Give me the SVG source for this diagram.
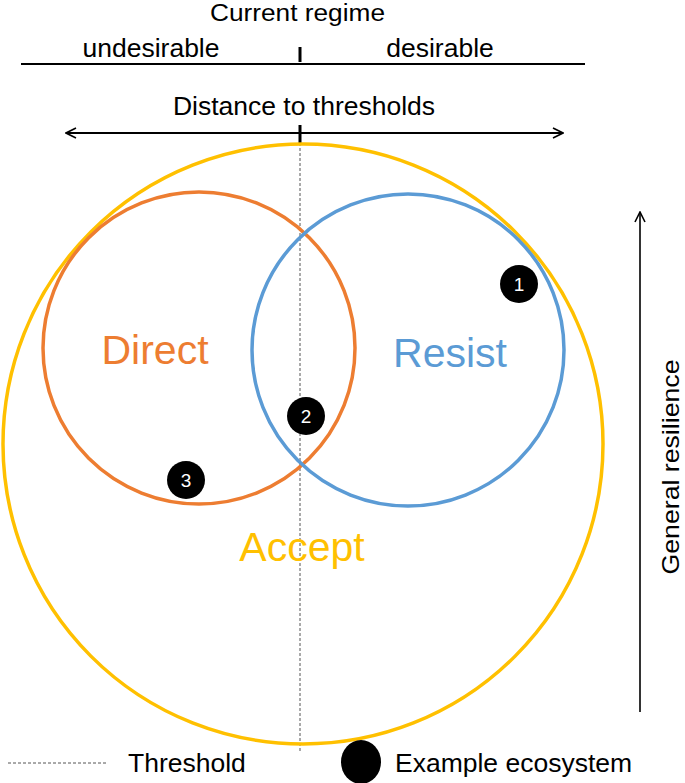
<svg xmlns="http://www.w3.org/2000/svg" width="685" height="783" viewBox="0 0 685 783">
<style>
.t{font-family:"Liberation Sans",Arial,sans-serif;fill:#000;font-size:26.5px}
.big{font-family:"Liberation Sans",Arial,sans-serif;font-size:41px;text-anchor:middle}
.num{font-family:"Liberation Sans",Arial,sans-serif;font-size:19px;fill:#fff;text-anchor:middle}
.ln{stroke:#000;stroke-width:2;fill:none}
.ring{fill:none;stroke-width:3.5}
</style>
<defs>
<marker id="open" viewBox="0 0 12 12" refX="11" refY="6" markerWidth="12" markerHeight="12" markerUnits="userSpaceOnUse" orient="auto-start-reverse">
<path d="M1,1 L11,6 L1,11" fill="none" stroke="#000" stroke-width="1.6"/>
</marker>
</defs>
<rect width="685" height="783" fill="#fff"/>
<g id="regime">
<text class="t" x="210" y="21" style="font-size:23px" textLength="175" lengthAdjust="spacingAndGlyphs">Current regime</text>
<text class="t" x="151" y="57" text-anchor="middle">undesirable</text>
<text class="t" x="440" y="57" text-anchor="middle">desirable</text>
<line class="ln" x1="21" y1="64" x2="585" y2="64"/>
<line x1="300" y1="47" x2="300" y2="62" stroke="#000" stroke-width="3"/>
</g>
<g id="distance">
<text class="t" x="304" y="115" text-anchor="middle">Distance to thresholds</text>
<line class="ln" x1="66" y1="133" x2="563" y2="133" stroke-width="1.6" marker-start="url(#open)" marker-end="url(#open)"/>
<line x1="300" y1="125" x2="300" y2="143" stroke="#000" stroke-width="3"/>
</g>
<g id="threshold">
<line x1="300" y1="143" x2="300" y2="752" stroke="#555" stroke-width="1" stroke-dasharray="3,2"/>
</g>
<g id="accept">
<circle class="ring" cx="303" cy="444" r="300" stroke="#FFC000"/>
<text class="big" x="302" y="561" fill="#FFC000">Accept</text>
</g>
<g id="direct">
<circle class="ring" cx="199" cy="348" r="156" stroke="#ED7D31"/>
<text class="big" x="155" y="364" fill="#ED7D31">Direct</text>
</g>
<g id="resist">
<circle class="ring" cx="408" cy="350" r="156" stroke="#5B9BD5"/>
<text class="big" x="450" y="367" fill="#5B9BD5">Resist</text>
</g>
<g id="eco1"><circle cx="519" cy="284" r="19" fill="#000"/><text class="num" x="519" y="291">1</text></g>
<g id="eco2"><circle cx="306" cy="416" r="19" fill="#000"/><text class="num" x="306" y="423">2</text></g>
<g id="eco3"><circle cx="186" cy="480" r="19" fill="#000"/><text class="num" x="186" y="487">3</text></g>
<g id="resilience">
<line x1="640" y1="712" x2="640" y2="212" stroke="#000" stroke-width="1.6" marker-end="url(#open)"/>
<text class="t" transform="translate(679,467) rotate(-90)" text-anchor="middle" style="font-size:24px" textLength="215" lengthAdjust="spacingAndGlyphs">General resilience</text>
</g>
<g id="legend">
<line x1="8" y1="763" x2="107" y2="763" stroke="#555" stroke-width="1" stroke-dasharray="3,2"/>
<text class="t" x="128" y="772">Threshold</text>
<ellipse cx="361" cy="762" rx="20" ry="22" fill="#000"/>
<text class="t" x="395" y="772">Example ecosystem</text>
</g>
</svg>
